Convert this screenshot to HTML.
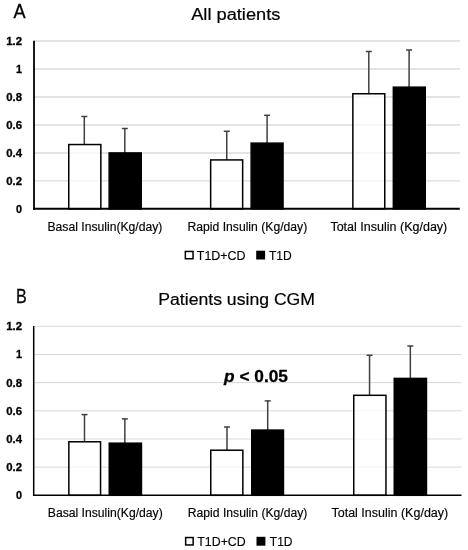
<!DOCTYPE html>
<html><head><meta charset="utf-8"><title>Insulin doses</title>
<style>
html,body{margin:0;padding:0;background:#fff;}
svg{display:block;}
text{font-family:"Liberation Sans",sans-serif;fill:#000;}
.yl{font-size:11px;font-weight:bold;stroke:#000;stroke-width:0.3px;}
.cl{font-size:12px;stroke:#000;stroke-width:0.15px;}
.lg{font-size:13.3px;stroke:#000;stroke-width:0.15px;}
.tt{font-size:17.3px;stroke:#000;stroke-width:0.2px;}
.pn{font-size:20.2px;stroke:#000;stroke-width:0.3px;}
.pv{font-size:17px;font-weight:bold;stroke:#000;stroke-width:0.3px;}
</style></head><body>
<svg width="468" height="550" viewBox="0 0 468 550">
<rect width="468" height="550" fill="#fff"/>
<text x="13.5" y="17.6" class="pn" textLength="12.1" lengthAdjust="spacingAndGlyphs">A</text>
<text x="191.2" y="19.6" class="tt" textLength="89.2" lengthAdjust="spacingAndGlyphs">All patients</text>
<line x1="34" y1="180.92" x2="459.8" y2="180.92" stroke="#dbdbdb" stroke-width="1.4"/>
<line x1="34" y1="152.93" x2="459.8" y2="152.93" stroke="#dbdbdb" stroke-width="1.4"/>
<line x1="34" y1="124.95" x2="459.8" y2="124.95" stroke="#dbdbdb" stroke-width="1.4"/>
<line x1="34" y1="96.97" x2="459.8" y2="96.97" stroke="#dbdbdb" stroke-width="1.4"/>
<line x1="34" y1="68.98" x2="459.8" y2="68.98" stroke="#dbdbdb" stroke-width="1.4"/>
<line x1="34" y1="41.00" x2="459.8" y2="41.00" stroke="#dbdbdb" stroke-width="1.4"/>
<line x1="84.30" y1="144.54" x2="84.30" y2="116.50" stroke="#404040" stroke-width="1.5"/>
<line x1="81.30" y1="116.50" x2="87.30" y2="116.50" stroke="#404040" stroke-width="1.5"/>
<rect x="68.75" y="144.54" width="32.10" height="64.36" fill="#fff" fill-opacity="0.7" stroke="#000" stroke-width="1.5"/>
<line x1="124.80" y1="152.93" x2="124.80" y2="128.50" stroke="#404040" stroke-width="1.5"/>
<line x1="121.80" y1="128.50" x2="127.80" y2="128.50" stroke="#404040" stroke-width="1.5"/>
<rect x="109.15" y="152.93" width="32.10" height="55.97" fill="#000" fill-opacity="1" stroke="#000" stroke-width="1.5"/>
<line x1="226.75" y1="159.93" x2="226.75" y2="131.30" stroke="#404040" stroke-width="1.5"/>
<line x1="223.75" y1="131.30" x2="229.75" y2="131.30" stroke="#404040" stroke-width="1.5"/>
<rect x="210.65" y="159.93" width="32.00" height="48.97" fill="#fff" fill-opacity="0.7" stroke="#000" stroke-width="1.5"/>
<line x1="267.10" y1="143.14" x2="267.10" y2="115.30" stroke="#404040" stroke-width="1.5"/>
<line x1="264.10" y1="115.30" x2="270.10" y2="115.30" stroke="#404040" stroke-width="1.5"/>
<rect x="251.15" y="143.14" width="31.90" height="65.76" fill="#000" fill-opacity="1" stroke="#000" stroke-width="1.5"/>
<line x1="368.80" y1="93.75" x2="368.80" y2="51.50" stroke="#404040" stroke-width="1.5"/>
<line x1="365.80" y1="51.50" x2="371.80" y2="51.50" stroke="#404040" stroke-width="1.5"/>
<rect x="352.85" y="93.75" width="31.90" height="115.15" fill="#fff" fill-opacity="0.7" stroke="#000" stroke-width="1.5"/>
<line x1="409.10" y1="87.17" x2="409.10" y2="50.00" stroke="#404040" stroke-width="1.5"/>
<line x1="406.10" y1="50.00" x2="412.10" y2="50.00" stroke="#404040" stroke-width="1.5"/>
<rect x="393.35" y="87.17" width="31.90" height="121.73" fill="#000" fill-opacity="1" stroke="#000" stroke-width="1.5"/>
<line x1="34.0" y1="40.70" x2="34.0" y2="209.75" stroke="#000" stroke-width="1.8"/>
<line x1="33.10" y1="208.80" x2="459.8" y2="208.80" stroke="#000" stroke-width="1.9"/>
<text x="16.10" y="212.80" class="yl" textLength="6.0" lengthAdjust="spacingAndGlyphs">0</text>
<text x="6.30" y="184.82" class="yl" textLength="15.8" lengthAdjust="spacingAndGlyphs">0.2</text>
<text x="6.30" y="156.83" class="yl" textLength="15.8" lengthAdjust="spacingAndGlyphs">0.4</text>
<text x="6.30" y="128.85" class="yl" textLength="15.8" lengthAdjust="spacingAndGlyphs">0.6</text>
<text x="6.30" y="100.87" class="yl" textLength="15.8" lengthAdjust="spacingAndGlyphs">0.8</text>
<text x="16.10" y="72.88" class="yl" textLength="6.0" lengthAdjust="spacingAndGlyphs">1</text>
<text x="6.30" y="44.90" class="yl" textLength="15.8" lengthAdjust="spacingAndGlyphs">1.2</text>
<text x="47.5" y="231.0" class="cl" textLength="114.9" lengthAdjust="spacingAndGlyphs">Basal Insulin(Kg/day)</text>
<text x="187.5" y="231.0" class="cl" textLength="119.7" lengthAdjust="spacingAndGlyphs">Rapid Insulin (Kg/day)</text>
<text x="330.4" y="231.0" class="cl" textLength="116.9" lengthAdjust="spacingAndGlyphs">Total Insulin (Kg/day)</text>
<rect x="185.35" y="251.45" width="7.70" height="7.30" fill="#fff" stroke="#000" stroke-width="1.5"/>
<text x="196.8" y="259.5" class="lg" textLength="48.8" lengthAdjust="spacingAndGlyphs">T1D+CD</text>
<rect x="256.20" y="250.70" width="8.90" height="8.80" fill="#000"/>
<text x="269.0" y="259.5" class="lg" textLength="22.8" lengthAdjust="spacingAndGlyphs">T1D</text>
<text x="16.0" y="302.9" class="pn" textLength="10.7" lengthAdjust="spacingAndGlyphs">B</text>
<text x="158.3" y="305.2" class="tt" textLength="156.7" lengthAdjust="spacingAndGlyphs">Patients using CGM</text>
<line x1="34" y1="467.13" x2="461.5" y2="467.13" stroke="#cecece" stroke-width="0.8"/>
<line x1="34" y1="438.97" x2="461.5" y2="438.97" stroke="#cecece" stroke-width="0.8"/>
<line x1="34" y1="410.80" x2="461.5" y2="410.80" stroke="#cecece" stroke-width="0.8"/>
<line x1="34" y1="382.63" x2="461.5" y2="382.63" stroke="#cecece" stroke-width="0.8"/>
<line x1="34" y1="354.47" x2="461.5" y2="354.47" stroke="#cecece" stroke-width="0.8"/>
<line x1="34" y1="326.30" x2="461.5" y2="326.30" stroke="#cecece" stroke-width="0.8"/>
<line x1="84.50" y1="441.78" x2="84.50" y2="414.60" stroke="#404040" stroke-width="1.5"/>
<line x1="81.50" y1="414.60" x2="87.50" y2="414.60" stroke="#404040" stroke-width="1.5"/>
<rect x="68.85" y="441.78" width="31.70" height="53.52" fill="#fff" fill-opacity="0.7" stroke="#000" stroke-width="1.5"/>
<line x1="124.85" y1="443.19" x2="124.85" y2="418.90" stroke="#404040" stroke-width="1.5"/>
<line x1="121.85" y1="418.90" x2="127.85" y2="418.90" stroke="#404040" stroke-width="1.5"/>
<rect x="109.25" y="443.19" width="32.20" height="52.11" fill="#000" fill-opacity="1" stroke="#000" stroke-width="1.5"/>
<line x1="227.00" y1="450.23" x2="227.00" y2="427.00" stroke="#404040" stroke-width="1.5"/>
<line x1="224.00" y1="427.00" x2="230.00" y2="427.00" stroke="#404040" stroke-width="1.5"/>
<rect x="210.75" y="450.23" width="32.10" height="45.07" fill="#fff" fill-opacity="0.7" stroke="#000" stroke-width="1.5"/>
<line x1="267.70" y1="430.09" x2="267.70" y2="400.90" stroke="#404040" stroke-width="1.5"/>
<line x1="264.70" y1="400.90" x2="270.70" y2="400.90" stroke="#404040" stroke-width="1.5"/>
<rect x="251.75" y="430.09" width="31.70" height="65.21" fill="#000" fill-opacity="1" stroke="#000" stroke-width="1.5"/>
<line x1="369.55" y1="395.31" x2="369.55" y2="355.30" stroke="#404040" stroke-width="1.5"/>
<line x1="366.55" y1="355.30" x2="372.55" y2="355.30" stroke="#404040" stroke-width="1.5"/>
<rect x="353.75" y="395.31" width="32.20" height="99.99" fill="#fff" fill-opacity="0.7" stroke="#000" stroke-width="1.5"/>
<line x1="410.35" y1="378.41" x2="410.35" y2="346.00" stroke="#404040" stroke-width="1.5"/>
<line x1="407.35" y1="346.00" x2="413.35" y2="346.00" stroke="#404040" stroke-width="1.5"/>
<rect x="394.25" y="378.41" width="32.20" height="116.89" fill="#000" fill-opacity="1" stroke="#000" stroke-width="1.5"/>
<line x1="33.7" y1="326.00" x2="33.7" y2="496.00" stroke="#000" stroke-width="1.5"/>
<line x1="32.95" y1="495.20" x2="461.5" y2="495.20" stroke="#000" stroke-width="1.6"/>
<text x="16.10" y="499.20" class="yl" textLength="6.0" lengthAdjust="spacingAndGlyphs">0</text>
<text x="6.30" y="471.03" class="yl" textLength="15.8" lengthAdjust="spacingAndGlyphs">0.2</text>
<text x="6.30" y="442.87" class="yl" textLength="15.8" lengthAdjust="spacingAndGlyphs">0.4</text>
<text x="6.30" y="414.70" class="yl" textLength="15.8" lengthAdjust="spacingAndGlyphs">0.6</text>
<text x="6.30" y="386.53" class="yl" textLength="15.8" lengthAdjust="spacingAndGlyphs">0.8</text>
<text x="16.10" y="358.37" class="yl" textLength="6.0" lengthAdjust="spacingAndGlyphs">1</text>
<text x="6.30" y="330.20" class="yl" textLength="15.8" lengthAdjust="spacingAndGlyphs">1.2</text>
<text x="224.1" y="381.6" class="pv" textLength="63.9" lengthAdjust="spacingAndGlyphs"><tspan font-style="italic">p</tspan> &lt; 0.05</text>
<text x="47.8" y="517.0" class="cl" textLength="114.9" lengthAdjust="spacingAndGlyphs">Basal Insulin(Kg/day)</text>
<text x="187.8" y="517.0" class="cl" textLength="119.6" lengthAdjust="spacingAndGlyphs">Rapid Insulin (Kg/day)</text>
<text x="331.5" y="517.0" class="cl" textLength="116.7" lengthAdjust="spacingAndGlyphs">Total Insulin (Kg/day)</text>
<rect x="185.65" y="537.55" width="7.50" height="7.40" fill="#fff" stroke="#000" stroke-width="1.5"/>
<text x="197.3" y="545.7" class="lg" textLength="48.4" lengthAdjust="spacingAndGlyphs">T1D+CD</text>
<rect x="256.50" y="536.80" width="8.90" height="8.90" fill="#000"/>
<text x="269.8" y="545.7" class="lg" textLength="22.7" lengthAdjust="spacingAndGlyphs">T1D</text>
</svg>
</body></html>
